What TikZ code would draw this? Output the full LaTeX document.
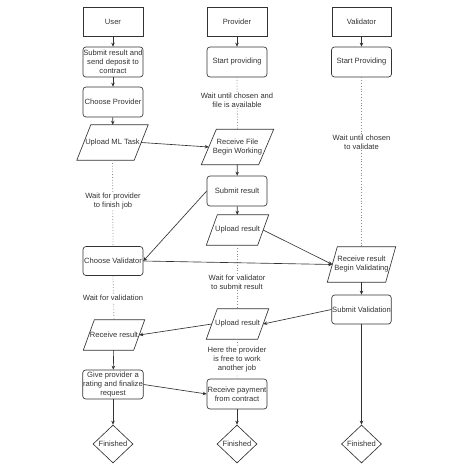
\documentclass[tikz,border=0pt]{standalone}
\usepackage{fontspec}
\setmainfont{Liberation Sans}
\usetikzlibrary{shapes.geometric,arrows.meta}
\begin{document}
\begin{tikzpicture}[x=1pt,y=-1pt, font=\fontsize{7.6}{9}\selectfont,
  box/.style={draw=black!80, line width=0.65pt, minimum width=60pt, minimum height=30pt, inner sep=0.5pt, align=center, text=black!80},
  rbox/.style={box, rounded corners=3pt},
  para/.style={minimum height=30pt, inner sep=0.5pt, align=center, text=black!80},
  fin/.style={shape=diamond, draw=black!80, line width=0.65pt, minimum width=40pt, minimum height=38pt, inner sep=0pt, text=black!80},
  lab/.style={fill=white, inner sep=1pt, align=center, text=black!80},
  arr/.style={draw=black!80, line width=0.65pt, -{Stealth[length=4pt,width=3.5pt]}},
  wait/.style={draw=black!45, line width=0.8pt, dotted},
  outline/.style={draw=black!80, line width=0.65pt}]
\useasboundingbox[fill=white] (0,0) rectangle (474,474);

% headers
\node[box, minimum height=29pt] (user) at (113,21.5) {User};
\node[box, minimum height=29pt] (prov) at (237,21.5) {Provider};
\node[box, minimum height=29pt, minimum width=59pt] (val) at (361.5,21.5) {Validator};

% user column
\node[rbox] (deposit) at (113,62) {Submit result and\\send deposit to\\contract};
\node[rbox] (choosep) at (113,102) {Choose Provider};
\node[para, minimum width=57pt, minimum height=35pt] (mltask) at (112.5,142.5) {Upload ML Task};
\node[rbox, minimum height=29pt] (choosev) at (113,261) {Choose Validator};
\node[para, minimum width=50pt] (recvres) at (114,335) {Receive result};
\node[rbox, minimum height=29pt] (give) at (113,384.5) {Give provider a\\rating and finalize\\request};
\node[fin] (fin1) at (113,444) {Finished};

% provider column
\node[rbox] (startp) at (237,62) {Start providing};
\node[para, minimum width=57pt, minimum height=35pt] (recvfile) at (237.5,147) {Receive File\\Begin Working};
\node[rbox] (subres) at (237,191) {Submit result};
\node[para, minimum width=51pt] (upl1) at (237.5,230) {Upload result};
\node[para, minimum width=51pt] (upl2) at (237.5,324) {Upload result};
\node[rbox] (recvpay) at (237,394) {Receive payment\\from contract};
\node[fin] (fin2) at (237,444) {Finished};

% validator column
\node[rbox] (startv) at (361.5,62) {Start Providing};
\node[para, minimum width=58pt, minimum height=35pt] (recvval) at (361.5,264.5) {Receive result\\Begin Validating};
\node[rbox, minimum height=29pt, minimum width=59pt] (subval) at (361.5,309.5) {Submit Validation};
\node[fin] (fin3) at (361.5,444) {Finished};

% parallelogram outlines
\foreach \n/\s in {mltask/7, recvfile/7.5, upl1/5.5, recvval/5, upl2/5.5, recvres/5.5}
  \draw[outline] ([xshift=\s pt]\n.north west) -- ([xshift=\s pt]\n.north east)
     -- ([xshift=-\s pt]\n.south east) -- ([xshift=-\s pt]\n.south west) -- cycle;

% dotted waits
\draw[wait] (mltask.south) -- (choosev.north);
\draw[wait] (choosev.south) -- (recvres.north);
\draw[wait] (startp.south) -- (recvfile.north);
\draw[wait] (upl1.south) -- (upl2.north);
\draw[wait] (upl2.south) -- (recvpay.north);
\draw[wait] (startv.south) -- (recvval.north);

\node[lab] (l1) at (113,201) {Wait for provider\\to finish job};
\node[lab] (l2) at (113,298) {Wait for validation};
\node[lab] (l3) at (237,100) {Wait until chosen and\\file is available};
\node[lab] (l4) at (237,282) {Wait for validator\\to submit result};
\node[lab] (l5) at (237,360) {Here the provider\\is free to work\\another job};
\node[lab] (l6) at (361.5,142) {Wait until chosen\\to validate};

% vertical arrows
\draw[arr] (user) -- (deposit);
\draw[arr] (deposit) -- (choosep);
\draw[arr] (choosep) -- (mltask);
\draw[arr] (prov) -- (startp);
\draw[arr] (recvfile) -- (subres);
\draw[arr] (subres) -- (upl1);
\draw[arr] (val) -- (startv);
\draw[arr] (recvval) -- (subval);
\draw[arr] (recvres) -- (give);
\draw[arr] (give) -- (fin1);
\draw[arr] (recvpay) -- (fin2);
\draw[arr] (subval) -- (fin3);

% cross arrows
\draw[arr] (mltask.east) -- (recvfile.west);
\draw[arr] (subres.west) -- (choosev.east);
\draw[arr] (upl1.east) -- (recvval.west);
\draw[arr] (choosev.east) -- (recvval.west);
\draw[arr] (subval.west) -- (upl2.east);
\draw[arr] (upl2.west) -- (recvres.east);
\draw[arr] (give.east) -- (recvpay.west);
\end{tikzpicture}
\end{document}
